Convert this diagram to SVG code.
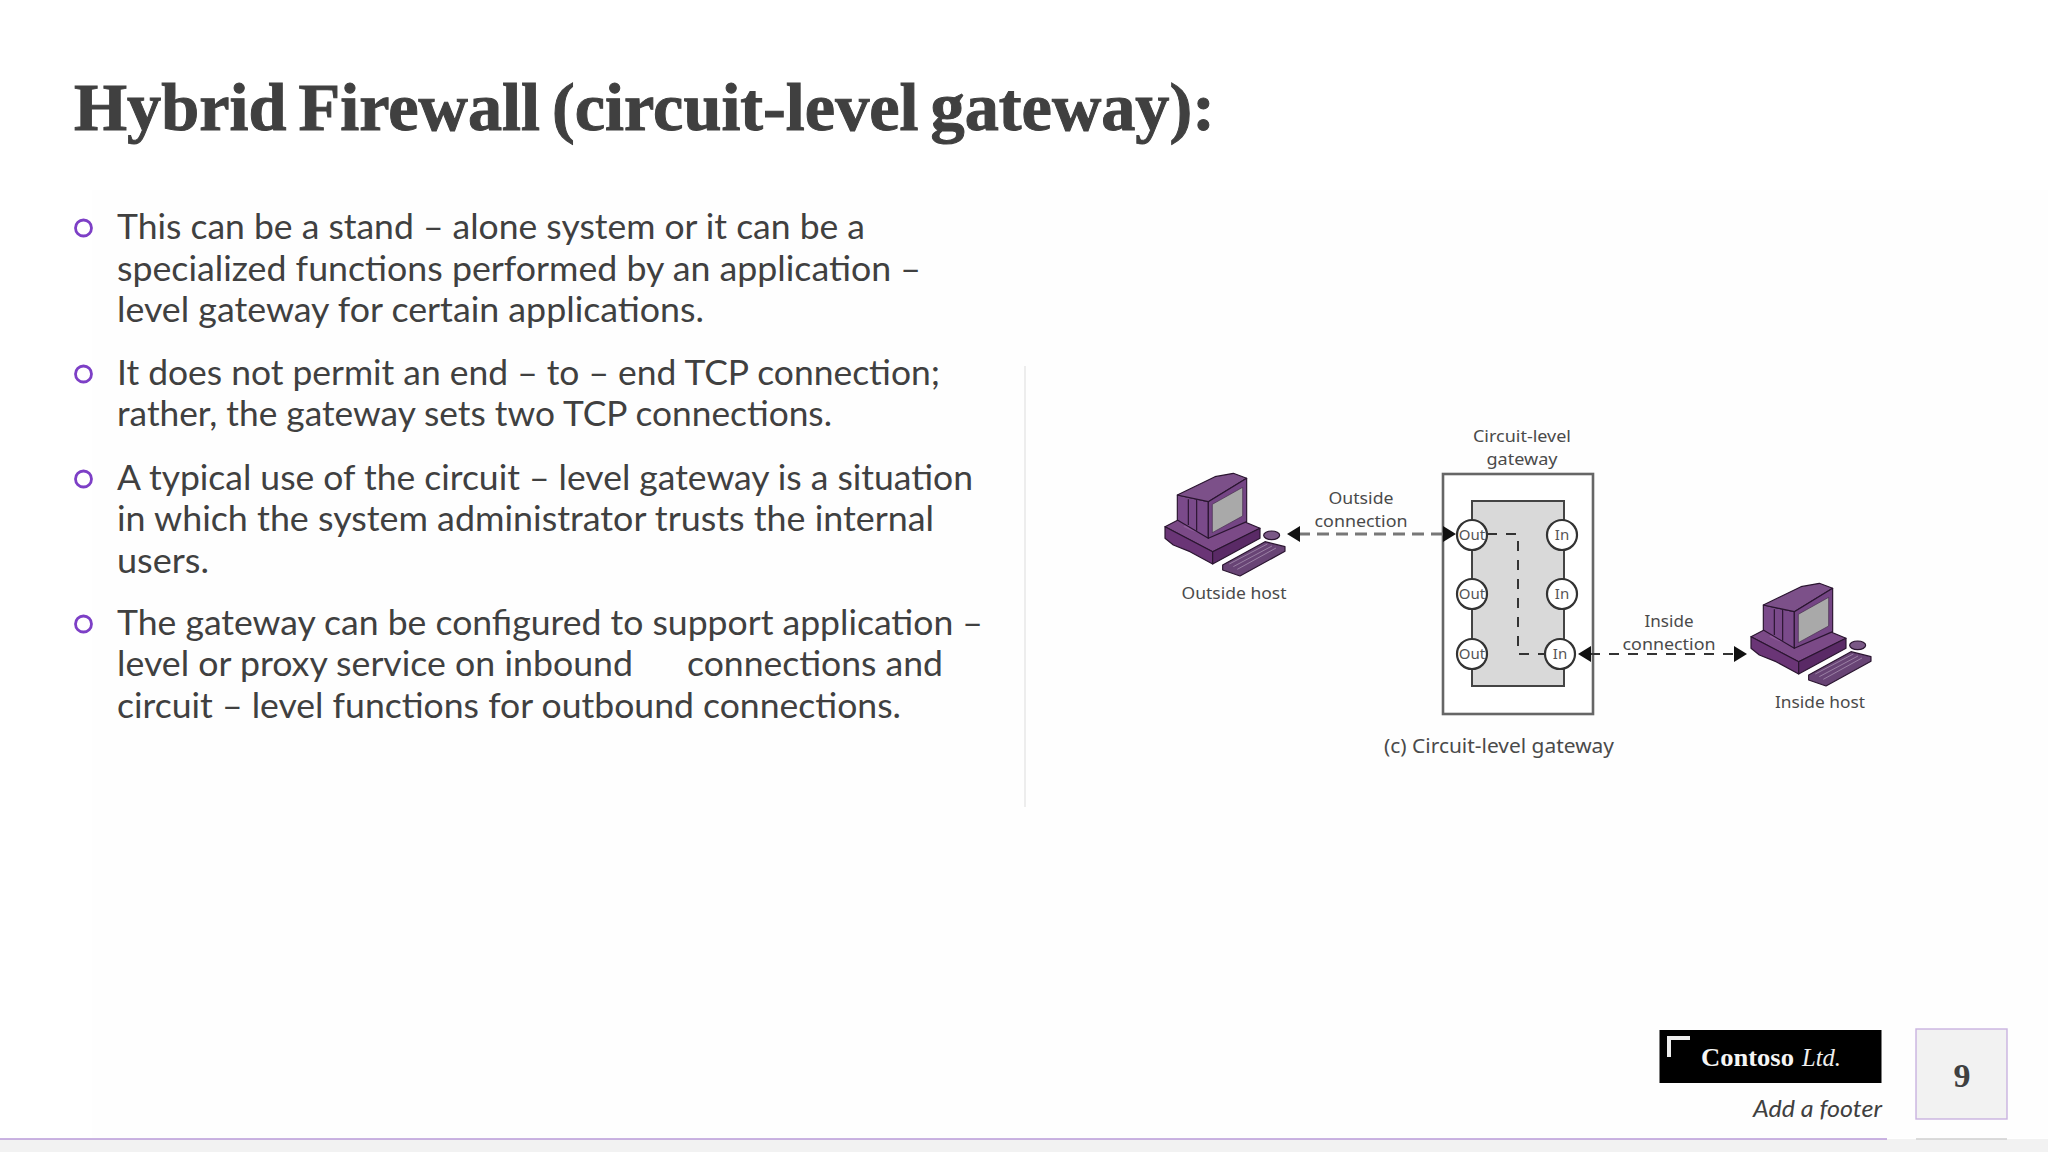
<svg xmlns="http://www.w3.org/2000/svg" xmlns:xlink="http://www.w3.org/1999/xlink" width="2048" height="1152" viewBox="0 0 2048 1152">
<style>
.title{font-family:"Liberation Serif",serif;font-weight:700;font-size:68px;fill:#404040;stroke:#404040;stroke-width:1;word-spacing:-5px}
.body{font-family:Lato,"Noto Sans",sans-serif;font-size:34px;fill:#404040}
.bullet{fill:none;stroke:#7d3fc6;stroke-width:2.8}
.lbl{font-family:"Noto Sans",sans-serif;font-size:17px;fill:#4a4a4a;text-anchor:middle}
.port{fill:#fff;stroke:#333;stroke-width:2.2}
.ptxt{font-family:"Noto Sans",sans-serif;font-size:15px;fill:#555;text-anchor:middle}
.pc{stroke:#2a1530;stroke-width:3.5;stroke-linejoin:round}
.dash-o{fill:none;stroke:#777;stroke-width:3;stroke-dasharray:12 7}
.dash-i{fill:none;stroke:#333;stroke-width:2;stroke-dasharray:10 9}
.head{fill:#111;stroke:none}
</style>
<defs>
<g id="computer">
<path class="pc" fill="#7b4a87" d="M75 350L130 322L240 305L360 355L218 425Z"/>
<path class="pc" fill="#6a3576" d="M75 350L218 425V462L150 425L100 405L75 385Z"/>
<path class="pc" fill="#5a2a66" d="M218 425L360 355V385L218 462Z"/>
<path fill="#8e5a9a" d="M130 350Q220 400 300 340L240 320L150 330Z"/>
<path class="pc" fill="#7a4a8a" d="M112 255L205 275V385L112 330Z"/>
<path class="pc" fill="none" d="M145 268V345M170 262V362"/>
<path class="pc" fill="#7c5089" d="M112 255L225 200L280 190L320 205L205 275Z"/>
<path class="pc" fill="#744584" d="M205 275L320 205V335L205 385Z"/>
<path fill="#a9a9a9" stroke="#42294a" stroke-width="2" d="M217 283L308 232V318L217 368Z"/>
<path class="pc" fill="#684475" d="M248 465L375 395L435 410V424L300 498L248 480Z"/>
<path fill="none" stroke="#9a7fa4" stroke-width="3" d="M268 462L382 402M280 470L396 408M292 478L408 414"/>
<ellipse class="pc" cx="395" cy="376" rx="24" ry="13" fill="#7a5886"/>
</g>
<path id="tip" class="head" d="M0 0L-13 -8V8Z"/>
</defs>
<rect width="2048" height="1152" fill="#fff"/>
<rect x="92" y="190" width="1956" height="948" fill="#fefefe"/>
<rect y="1139" width="2048" height="13" fill="#f2f2f2"/>
<path d="M0 1139H1887" stroke="#b99ad9" stroke-width="1.6"/>
<path d="M1916 1139H2007" stroke="#cfcfcf" stroke-width="1.6"/>
<path d="M1025 366V807" stroke="#e6e6e6" stroke-width="1.4"/>

<text class="title" x="74" y="130" textLength="1141" lengthAdjust="spacingAndGlyphs">Hybrid Firewall (circuit-level gateway):</text>

<g id="bullets">
<circle class="bullet" cx="83.5" cy="228" r="8"/>
<circle class="bullet" cx="83.5" cy="374" r="8"/>
<circle class="bullet" cx="83.5" cy="479" r="8"/>
<circle class="bullet" cx="83.5" cy="624" r="8"/>
<text class="body" x="117" y="239" textLength="748" lengthAdjust="spacingAndGlyphs">This can be a stand – alone system or it can be a</text>
<text class="body" x="117" y="280.8" textLength="804" lengthAdjust="spacingAndGlyphs">specialized functions performed by an application –</text>
<text class="body" x="117" y="322" textLength="587" lengthAdjust="spacingAndGlyphs">level gateway for certain applications.</text>
<text class="body" x="117" y="385.3" textLength="823" lengthAdjust="spacingAndGlyphs">It does not permit an end – to – end TCP connection;</text>
<text class="body" x="117" y="426.4" textLength="715" lengthAdjust="spacingAndGlyphs">rather, the gateway sets two TCP connections.</text>
<text class="body" x="117" y="489.8" textLength="856" lengthAdjust="spacingAndGlyphs">A typical use of the circuit – level gateway is a situation</text>
<text class="body" x="117" y="531" textLength="817" lengthAdjust="spacingAndGlyphs">in which the system administrator trusts the internal</text>
<text class="body" x="117" y="572.7" textLength="92" lengthAdjust="spacingAndGlyphs">users.</text>
<text class="body" x="117" y="634.8" textLength="866" lengthAdjust="spacingAndGlyphs">The gateway can be configured to support application –</text>
<text class="body" x="117" y="676" textLength="516" lengthAdjust="spacingAndGlyphs">level or proxy service on inbound</text>
<text class="body" x="687" y="676" textLength="256" lengthAdjust="spacingAndGlyphs">connections and</text>
<text class="body" x="117" y="717.7" textLength="784" lengthAdjust="spacingAndGlyphs">circuit – level functions for outbound connections.</text>
</g>

<g id="outer-gateway">
<rect x="1443" y="474" width="150" height="240" fill="#fff" stroke="#666" stroke-width="2.6"/>
<text class="lbl" x="1522" y="442" textLength="98" lengthAdjust="spacingAndGlyphs">Circuit-level</text>
<text class="lbl" x="1522" y="465" textLength="71" lengthAdjust="spacingAndGlyphs">gateway</text>
</g>
<g id="inner-gateway">
<rect x="1472" y="501" width="92" height="185" fill="#d9d9d9" stroke="#444" stroke-width="2"/>
</g>

<g id="connectors">
<path class="dash-o" d="M1298 534H1445"/>
<use xlink:href="#tip" href="#tip" transform="translate(1287 534) rotate(180)"/>
<use xlink:href="#tip" href="#tip" transform="translate(1456 534)"/>
<path class="dash-i" d="M1487 534H1518V654H1547"/>
<path class="dash-i" d="M1590 654H1735"/>
<use xlink:href="#tip" href="#tip" transform="translate(1578 654) rotate(180)"/>
<use xlink:href="#tip" href="#tip" transform="translate(1747 654)"/>
</g>

<g id="ports">
<g id="out1"><circle class="port" cx="1472" cy="535" r="15"/><text class="ptxt" x="1472" y="540">Out</text></g>
<g id="out2"><circle class="port" cx="1472" cy="594" r="15"/><text class="ptxt" x="1472" y="599">Out</text></g>
<g id="out3"><circle class="port" cx="1472" cy="654" r="15"/><text class="ptxt" x="1472" y="659">Out</text></g>
<g id="in1"><circle class="port" cx="1562" cy="535" r="15"/><text class="ptxt" x="1562" y="540">In</text></g>
<g id="in2"><circle class="port" cx="1562" cy="594" r="15"/><text class="ptxt" x="1562" y="599">In</text></g>
<g id="in3"><circle class="port" cx="1560" cy="654" r="15"/><text class="ptxt" x="1560" y="659">In</text></g>
</g>

<g id="outside-host">
<use xlink:href="#computer" href="#computer" transform="translate(1140 410) scale(.3333)"/>
<text class="lbl" x="1234" y="599" textLength="105" lengthAdjust="spacingAndGlyphs">Outside host</text>
</g>
<g id="inside-host">
<use xlink:href="#computer" href="#computer" transform="translate(1726 520) scale(.3333)"/>
<text class="lbl" x="1820" y="708" textLength="90" lengthAdjust="spacingAndGlyphs">Inside host</text>
</g>

<g id="labels">
<text class="lbl" x="1361" y="504" textLength="65" lengthAdjust="spacingAndGlyphs">Outside</text>
<text class="lbl" x="1361" y="527" textLength="93" lengthAdjust="spacingAndGlyphs">connection</text>
<text class="lbl" x="1669" y="627" textLength="49" lengthAdjust="spacingAndGlyphs">Inside</text>
<text class="lbl" x="1669" y="650" textLength="93" lengthAdjust="spacingAndGlyphs">connection</text>
<text class="lbl" x="1499" y="753" style="font-size:20px" textLength="230" lengthAdjust="spacingAndGlyphs">(c) Circuit-level gateway</text>
</g>

<g id="logo">
<rect x="1659.5" y="1030" width="222" height="53" fill="#000"/>
<path d="M1669 1057V1038H1690" fill="none" stroke="#eee" stroke-width="4"/>
<text x="1701" y="1066" font-family="Liberation Serif,serif" font-size="26" font-weight="700" fill="#f5f5f5" textLength="93" lengthAdjust="spacingAndGlyphs">Contoso</text>
<text x="1802" y="1066" font-family="Liberation Serif,serif" font-size="26" font-style="italic" fill="#eee" textLength="39" lengthAdjust="spacingAndGlyphs">Ltd.</text>
</g>
<text id="footer" x="1753" y="1117" font-family="Lato,sans-serif" font-size="23" font-style="italic" fill="#404040" textLength="129" lengthAdjust="spacingAndGlyphs">Add a footer</text>
<g id="page">
<rect x="1916" y="1029" width="91" height="90" fill="#f2f2f2" stroke="#c9b3e0" stroke-width="1.4"/>
<text x="1962" y="1087" font-family="Liberation Serif,serif" font-size="34" font-weight="700" fill="#404040" text-anchor="middle">9</text>
</g>
</svg>
